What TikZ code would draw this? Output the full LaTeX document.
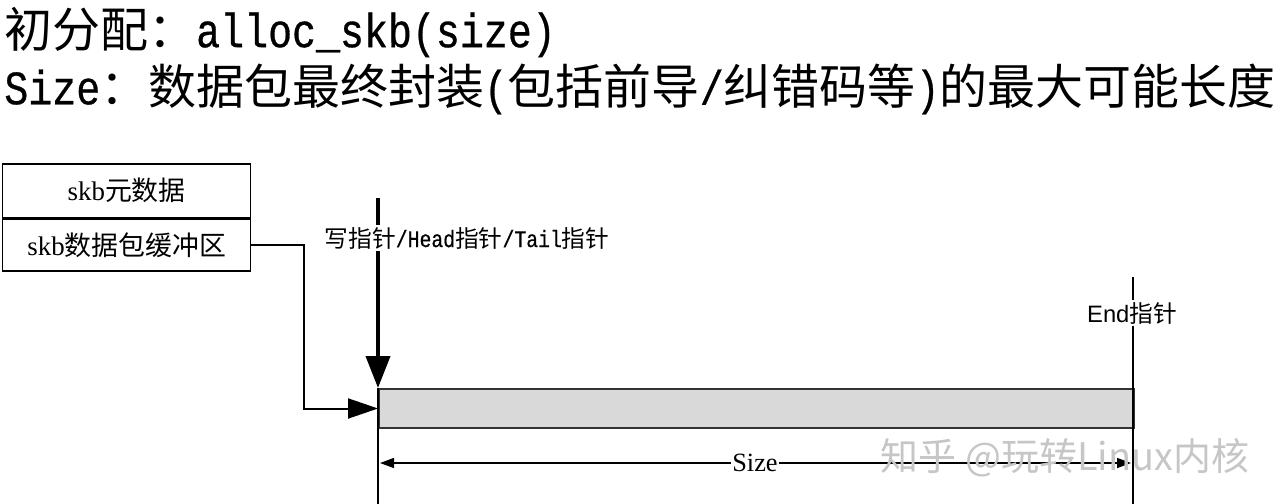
\documentclass[tikz,border=0pt]{standalone}
\usepackage{fontspec}
\usepackage{tikz}
\usetikzlibrary{arrows.meta, positioning}

\newfontfamily\cjk{Noto Sans CJK SC}
\newfontfamily\monofnt[FakeStretch=0.833, FakeBold=0.6]{Liberation Mono}
\newfontfamily\seriffnt{Liberation Serif}
\newfontfamily\sansfnt{Liberation Sans}

\definecolor{bargray}{HTML}{D9D9D9}
\definecolor{barline}{HTML}{333333}

\begin{document}
\begin{tikzpicture}[
    x=0.02cm, y=-0.02cm,
    titleline/.style={anchor=west, inner sep=0pt, font=\fontsize{27.3pt}{30pt}\selectfont},
    skbbox/.style={draw, line width=0.03cm, minimum width=4.96cm, inner sep=0pt, font=\fontsize{15.3pt}{17pt}\selectfont},
    bufbar/.style={draw=barline, line width=0.04cm, fill=bargray, inner sep=0pt},
    ptrlabel/.style={fill=white, inner sep=1pt, font=\fontsize{13.5pt}{15pt}\selectfont},
    conn/.style={line width=0.04cm, -{Triangle[length=6mm, width=4mm]}},
    ptr/.style={line width=0.08cm, -{Triangle[length=6.4mm, width=4.8mm]}},
    thinline/.style={line width=0.03cm},
    dim/.style={line width=0.03cm, {Triangle[length=2.8mm, width=2mm]}-{Triangle[length=2.8mm, width=2mm]}}
]
\useasboundingbox (0,0) rectangle (1282,504);

% Title lines
\node[titleline] (title1) at (4,32) {{\cjk 初分配：}{\monofnt alloc\_skb(size)}};
\node[titleline] (title2) at (4,89) {{\monofnt Size}{\cjk ：数据包最终封装}{\monofnt (}{\cjk 包括前导}{\monofnt /}{\cjk 纠错码等}{\monofnt )}{\cjk 的最大可能长度}};

% skb structure
\node[skbbox, anchor=north west, minimum height=1.08cm] (meta) at (2,163) {{\seriffnt skb}{\cjk 元数据}};
\node[skbbox, anchor=north, minimum height=1.04cm] (pkt) at (meta.south) {{\seriffnt skb}{\cjk 数据包缓冲区}};

% Buffer
\node[bufbar, anchor=north west, minimum width=15.1cm, minimum height=0.78cm] (buf) at (378,388) {};

% Buffer -> data area
\draw[conn] (pkt.east) -- ++(53,0) |- (buf.west);

% Write/Head/Tail pointer
\coordinate (wtop) at (378,198);
\draw[ptr] (wtop) -- (buf.north west);
\node[ptrlabel] (wlabel) at (467,238) {{\cjk 写指针}{\monofnt /Head}{\cjk 指针}{\monofnt /Tail}{\cjk 指针}};

% Start and End lines
\coordinate (lbot) at (378,504);
\draw[thinline] (buf.north west) -- (lbot);
\coordinate (etop) at (1133,277);
\coordinate (ebot) at (1133,504);
\draw[thinline] (etop) -- (ebot);
\node[ptrlabel] (elabel) at (1132,313) {{\sansfnt End}{\cjk 指针}};

% Size
\coordinate (sizeL) at (380,463);
\coordinate (sizeR) at (1131,463);
\draw[dim] (sizeL) -- (sizeR);
\node[fill=white, inner sep=1pt, font=\seriffnt\fontsize{15pt}{17pt}\selectfont] (sizelabel) at (755,463) {Size};

% Watermark
\node[text=gray!45, font=\cjk\fontsize{21.6pt}{24pt}\selectfont] (mark) at (1065,458) {知乎 @玩转Linux内核};
\end{tikzpicture}
\end{document}
